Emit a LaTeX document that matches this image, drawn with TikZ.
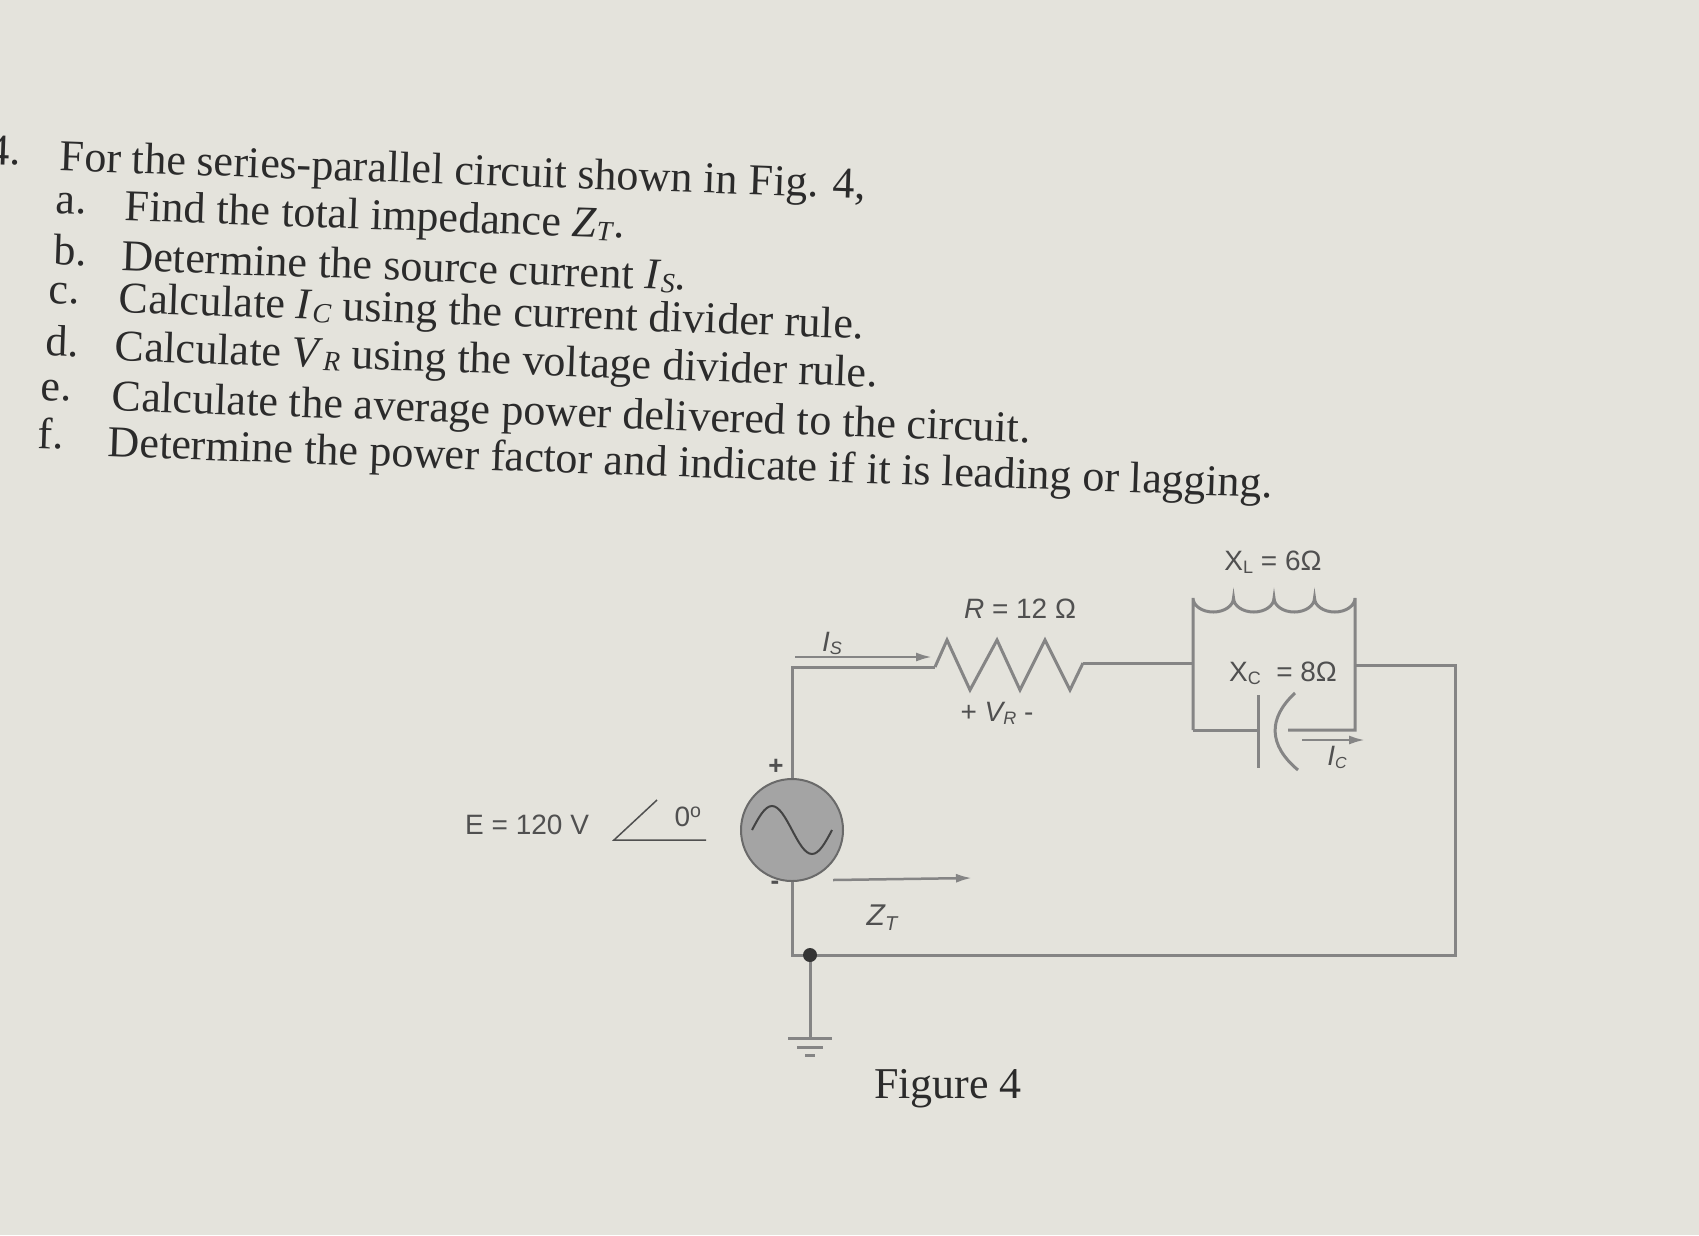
\documentclass[tikz,border=0pt]{standalone}
\usepackage{fontspec}
\setmainfont{Liberation Serif}
\newfontfamily\lsans{Liberation Sans}
\usetikzlibrary{arrows.meta}
\definecolor{paper}{HTML}{E4E3DC}
\definecolor{ink}{HTML}{2B2B2B}
\definecolor{wire}{HTML}{858585}
\newcommand{\vsub}[2]{\textit{#1}\raisebox{-3pt}{\fontsize{28}{28}\selectfont\textit{#2}}}
\begin{document}
\begin{tikzpicture}[x=1pt,y=-1pt,
  q/.style={anchor=west,inner sep=0pt,text=ink,font=\fontsize{44}{48}\selectfont,rotate=-2},
  lab/.style={inner sep=0pt,text=wire!60!black,font=\lsans\fontsize{28}{30}\selectfont},
  w/.style={draw=wire,line width=3pt},
  arr/.style={draw=wire,line width=2.5pt,-{Latex[length=16pt,width=9pt]}}]
\fill[paper] (0,0) rectangle (1699,1235);
\useasboundingbox (0,0) rectangle (1699,1235);
% question text
\node[q] (n0) at (-12,150) {4.};
\node[q] (l0) at (60,160) {For the series-parallel circuit shown in Fig. 4,};
\node[q] (a1) at (56,203) {a.}; \node[q] (a2) at (125,210) {Find the total impedance \vsub{Z}{T}.};
\node[q] (b1) at (54,250) {b.}; \node[q] (b2) at (122,257) {Determine the source current \vsub{I}{S}.};
\node[q] (c1) at (49,293) {c.}; \node[q] (c2) at (119,302) {Calculate \vsub{I}{C} using the current divider rule.};
\node[q] (d1) at (46,341) {d.}; \node[q] (d2) at (115,350) {Calculate \vsub{V}{R} using the voltage divider rule.};
\node[q] (e1) at (41,390) {e.}; \node[q] (e2) at (112,400) {Calculate the average power delivered to the circuit.};
\node[q] (f1) at (38,433) {f.}; \node[q] (f2) at (108,446) {Determine the power factor and indicate if it is leading or lagging.};
% coordinates
\coordinate (tl) at (792,667);
\coordinate (rs) at (935,667);
\coordinate (re) at (1083,663);
\coordinate (pl) at (1193,663);
\coordinate (pr) at (1355,665);
\coordinate (tr) at (1455,665);
\coordinate (br) at (1455,955);
\coordinate (bl) at (792,955);
\coordinate (dot) at (810,955);
\coordinate (gnd) at (810,1038);
% source
\node[circle,draw=wire!80!black,line width=2pt,fill=wire!75,minimum size=102pt,inner sep=0pt] (src) at (792,830) {};
\draw[wire!50!black,line width=2pt] ([xshift=-40pt]src.center) sin ++(20,-24) cos ++(20,24) sin ++(20,24) cos ++(20,-24);
% wires
\draw[w] (src.north) -- (tl) -- (rs);
\draw[w] (rs) -- (947,640) -- (970,690) -- (997,640) -- (1020,690) -- (1045,640) -- (1070,690) -- (re);
\draw[w] (re) -- (pl);
\draw[w] (src.south) -- (bl) -- (br) -- (tr) -- (pr);
\draw[w] (dot) -- (gnd);
\draw[w] (788,1038) -- (832,1038);
\draw[w] (797,1047) -- (823,1047);
\draw[w] (805,1055) -- (815,1055);
\fill[wire!40!black] (dot) circle (7pt);
% parallel block
\draw[w] (1193,730) -- (1193,598) arc (180:0:20.25 and 14) arc (180:0:20.25 and 14) arc (180:0:20.25 and 14) arc (180:0:20.25 and 14) -- (1355,730) -- (1288,730);
\draw[w] (1193,730) -- (1258,730);
\draw[w] (1258,695) -- (1258,768);
\draw[w] (1295,693) .. controls (1268,718) and (1268,745) .. (1298,770);
% arrows
\draw[arr] (795,657) -- (932,657);
\draw[arr] (833,880) -- (972,878);
\draw[arr] (1302,740) -- (1365,740);
% labels
\node[lab] (is) at (832,643) {\itshape I\raisebox{-3pt}{\fontsize{18}{18}\selectfont S}};
\node[lab] (rl) at (1020,609) {\itshape R\upshape{} = 12 Ω};
\node[lab] (vr) at (997,713) {+ \itshape V\raisebox{-3pt}{\fontsize{18}{18}\selectfont R}\upshape{} -};
\node[lab] (xl) at (1273,562) {X\raisebox{-3pt}{\fontsize{18}{18}\selectfont L} = 6Ω};
\node[lab] (xc) at (1283,673) {X\raisebox{-3pt}{\fontsize{18}{18}\selectfont C}\ \ = 8Ω};
\node[lab] (ic) at (1337,757) {\itshape I\raisebox{-3pt}{\fontsize{16}{16}\selectfont C}};
\node[lab,font=\lsans\fontsize{30}{30}\selectfont] (zt) at (882,918) {\itshape Z\raisebox{-5pt}{\fontsize{20}{20}\selectfont T}};
\node[lab,font=\bfseries\lsans\fontsize{26}{26}\selectfont] (pl1) at (776,767) {+};
\node[lab,font=\bfseries\lsans\fontsize{26}{26}\selectfont] (mi1) at (775,885) {-};
\node[lab,anchor=west] (E) at (465,825) {E = 120 V};
\draw[wire!60!black,line width=1.5pt] (657,800) -- (614,840) -- (706,840);
\node[lab] (deg) at (688,817) {0\textsuperscript{o}};
\node[inner sep=0pt,text=ink,font=\fontsize{44}{48}\selectfont] (fig) at (948,1089) {Figure 4};
\end{tikzpicture}
\end{document}
